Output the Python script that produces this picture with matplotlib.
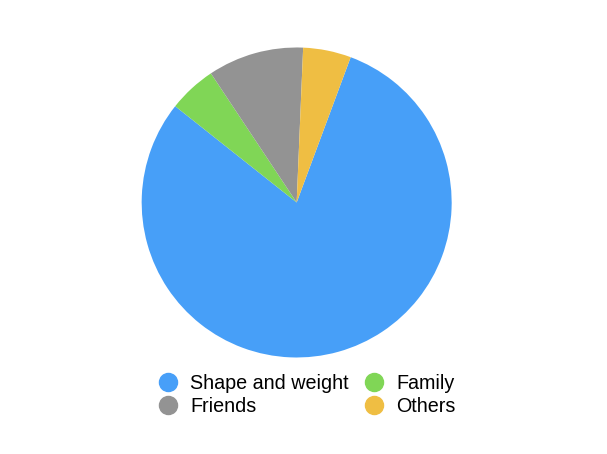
import matplotlib
matplotlib.use("Agg")
import matplotlib.pyplot as plt
from matplotlib.lines import Line2D

labels = ["Shape and weight", "Family", "Friends", "Others"]
values = [80, 5, 10, 5]
colors = ["#479FF8", "#80D656", "#939393", "#EFBE43"]

plt.rcParams['font.family'] = ['Liberation Sans', 'DejaVu Sans']

fig = plt.figure(figsize=(6.07, 4.54), dpi=100)
ax = fig.add_axes([0.2334, 0.2126, 0.5107, 0.6828])
ax.pie(values, colors=colors, startangle=69.6, counterclock=False,
       radius=1.0, wedgeprops=dict(linewidth=0), frame=False)
ax.set_xlim(-1, 1)
ax.set_ylim(-1, 1)
ax.set_aspect('equal')
ax.axis('off')

handles = [Line2D([0], [0], marker='o', linestyle='none', markersize=13,
                  markerfacecolor=c, markeredgecolor=c) for c in colors]
# legend fills column-major; reorder so rows read Shape/Family, Friends/Others
order = [0, 2, 1, 3]
fig.legend([handles[i] for i in order], [labels[i] for i in order],
           loc='center', bbox_to_anchor=(0.5055, 0.130),
           ncol=2, frameon=False, fontsize=14.2, handlelength=1.0,
           handletextpad=0.6, columnspacing=0.8, labelspacing=0.2,
           borderpad=0, borderaxespad=0)

fig.savefig("out.png", dpi=100)
